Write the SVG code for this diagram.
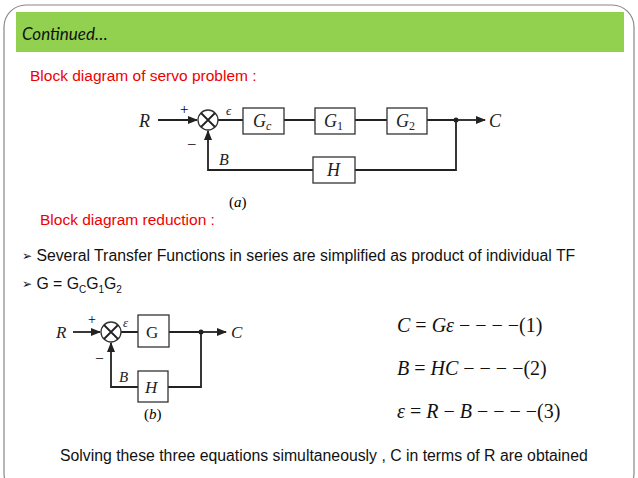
<svg xmlns="http://www.w3.org/2000/svg" width="638" height="478" viewBox="0 0 638 478">
<defs>
<marker id="ar" markerWidth="10" markerHeight="8" refX="9" refY="4" orient="auto" markerUnits="userSpaceOnUse"><path d="M0,0 L10,4 L0,8 z" fill="#222"/></marker>
</defs>
<style>
.ln{stroke:#222;stroke-width:1.8;fill:none}
.bx{stroke:#333;stroke-width:1.3;fill:#fff}
.s{font-family:"Liberation Serif",serif;font-style:italic;fill:#222}
.r{font-family:"Liberation Sans",sans-serif;font-size:15.5px;fill:#e00}
.b{font-family:"Liberation Sans",sans-serif;font-size:15.8px;fill:#111}
.eq{font-family:"Liberation Serif",serif;font-size:20px;fill:#111}
</style>
<rect width="638" height="478" fill="#fff"/>
<rect x="4" y="5" width="630" height="490" rx="22" fill="none" stroke="#888" stroke-width="1.2"/>
<rect x="16" y="12" width="608" height="40" fill="#92D050"/>
<text x="22" y="40" font-family="Lato,sans-serif" font-size="17" fill="#111" font-style="italic">Continued…</text>
<text x="30" y="81" class="r">Block diagram of servo problem :</text>
<text x="40" y="225" class="r">Block diagram reduction :</text>
<text x="22" y="261" class="b"><tspan font-size="12" dy="-1">➢</tspan><tspan dy="1"> Several Transfer Functions in series are simplified as product of individual TF</tspan></text>
<text x="22" y="289" class="b"><tspan font-size="12" dy="-1">➢</tspan><tspan dy="1"> G = G</tspan><tspan font-size="10" dy="4">C</tspan><tspan dy="-4">G</tspan><tspan font-size="10" dy="4">1</tspan><tspan dy="-4">G</tspan><tspan font-size="10" dy="4">2</tspan></text>
<text x="60" y="461" class="b">Solving these three equations simultaneously , C in terms of R are obtained</text>

<g id="connectors">
<path class="ln" d="M158,120 H197" marker-end="url(#ar)"/>
<path class="ln" d="M218,120 H243 M284,120 H315 M355,120 H387 M427,120 H456"/>
<path class="ln" d="M456,120 H485" marker-end="url(#ar)"/>
<path class="ln" d="M456,120 V170 H355 M313,170 H208 V131" marker-end="url(#ar)"/>
<circle cx="456" cy="120" r="2.5" fill="#222"/>
<path class="ln" d="M73,332 H100" marker-end="url(#ar)"/>
<path class="ln" d="M121,332 H138 M169,332 H201"/>
<path class="ln" d="M201,332 H226" marker-end="url(#ar)"/>
<path class="ln" d="M201,332 V387 H168 M138,387 H111 V343" marker-end="url(#ar)"/>
<circle cx="201" cy="332" r="2.5" fill="#222"/>
</g>

<g id="sum-a"><circle cx="208" cy="120" r="10" class="bx"/><path class="ln" stroke-width="1.3" d="M201,113 L215,127 M215,113 L201,127"/></g>
<g id="Gc"><rect x="243" y="108" width="41" height="26" class="bx"/><text x="253" y="127" class="s" font-size="18">G<tspan font-size="12" dy="3">c</tspan></text></g>
<g id="G1"><rect x="315" y="108" width="40" height="26" class="bx"/><text x="324" y="127" class="s" font-size="18">G<tspan font-style="normal" font-size="12" dy="3">1</tspan></text></g>
<g id="G2"><rect x="387" y="108" width="40" height="26" class="bx"/><text x="396" y="127" class="s" font-size="18">G<tspan font-style="normal" font-size="12" dy="3">2</tspan></text></g>
<g id="H-a"><rect x="313" y="157" width="42" height="26" class="bx"/><text x="327" y="176" class="s" font-size="18">H</text></g>
<g id="labels-a">
<text x="139" y="127" class="s" font-size="18">R</text>
<text x="489" y="127" class="s" font-size="18">C</text>
<text x="180" y="114" font-family="Liberation Serif,serif" font-size="15">+</text>
<text x="188" y="148" font-family="Liberation Serif,serif" font-size="15">–</text>
<text x="226" y="115" class="s" font-size="13">ϵ</text>
<text x="219" y="165" class="s" font-size="16">B</text>
<text x="229" y="207" font-family="Liberation Serif,serif" font-size="15">(<tspan font-style="italic">a</tspan>)</text>
</g>

<g id="sum-b"><circle cx="111" cy="332" r="10" class="bx"/><path class="ln" stroke-width="1.3" d="M104,325 L118,339 M118,325 L104,339"/></g>
<g id="G"><rect x="138" y="315" width="31" height="32" class="bx"/><text x="146" y="338" font-size="17" font-family="Liberation Serif,serif" fill="#222">G</text></g>
<g id="H-b"><rect x="138" y="371" width="30" height="31" class="bx"/><text x="145" y="393" class="s" font-size="17">H</text></g>
<g id="labels-b">
<text x="56" y="338" class="s" font-size="17">R</text>
<text x="231" y="338" class="s" font-size="17">C</text>
<text x="88" y="324" font-family="Liberation Serif,serif" font-size="14">+</text>
<text x="96" y="362" font-family="Liberation Serif,serif" font-size="14">–</text>
<text x="123" y="327" class="s" font-size="13">ε</text>
<text x="119" y="382" class="s" font-size="15">B</text>
<text x="144" y="419" font-family="Liberation Serif,serif" font-size="15">(<tspan font-style="italic">b</tspan>)</text>
</g>

<g id="equations">
<text x="397" y="332" class="eq"><tspan font-style="italic">C</tspan> = <tspan font-style="italic">Gε</tspan> − − − −(1)</text>
<text x="397" y="375" class="eq"><tspan font-style="italic">B</tspan> = <tspan font-style="italic">HC</tspan> − − − −(2)</text>
<text x="397" y="418" class="eq"><tspan font-style="italic">ε</tspan> = <tspan font-style="italic">R</tspan> − <tspan font-style="italic">B</tspan> − − − −(3)</text>
</g>
</svg>
